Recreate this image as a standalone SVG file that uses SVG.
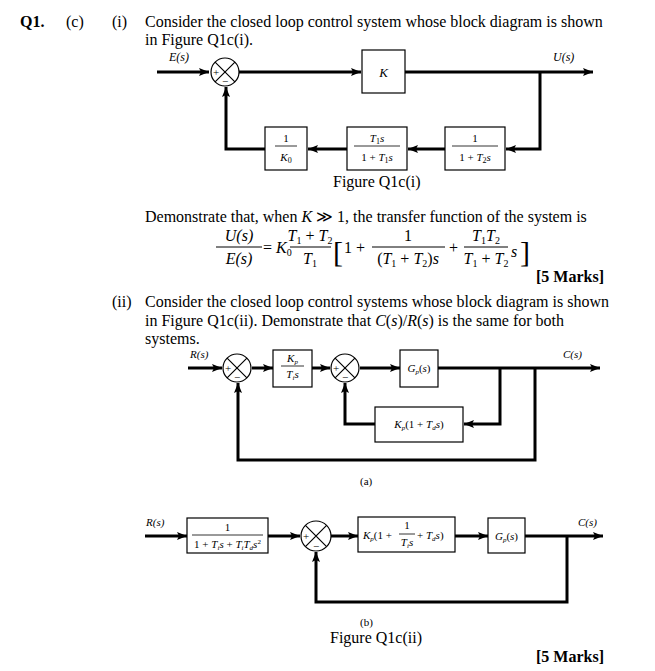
<svg xmlns="http://www.w3.org/2000/svg" width="655" height="671" viewBox="0 0 655 671">
<defs>
<marker id="ar" viewBox="0 0 10 8" refX="10" refY="4" markerWidth="10" markerHeight="8" markerUnits="userSpaceOnUse" orient="auto"><path d="M0,0 L10,4 L0,8 L2,4 z" fill="#000"/></marker>
</defs>
<style>
.t{font-family:"Liberation Serif",serif;font-size:16px;fill:#000}
.b{font-weight:bold}
.s{font-family:"Liberation Serif",serif;font-size:11px;fill:#000}
.i{font-style:italic}
.m{font-family:"Liberation Serif",serif;font-size:16px;font-style:italic;fill:#000}
.box{fill:#fff;stroke:#000;stroke-width:1.2}
.w{fill:none;stroke:#000;stroke-width:3}
.sum{fill:#fff;stroke:#000;stroke-width:1.2}
</style>
<rect width="655" height="671" fill="#fff"/>
<text class="t b" x="20" y="27">Q1.</text>
<text class="t" x="66" y="27">(c)</text>
<text class="t" x="112" y="27">(i)</text>
<text class="t" x="145" y="27">Consider the closed loop control system whose block diagram is shown</text>
<text class="t" x="145" y="45">in Figure Q1c(i).</text>

<g id="connectors">
<path class="w" d="M157,72 H209" marker-end="url(#ar)"/>
<path class="w" d="M239,72 H361" marker-end="url(#ar)"/>
<path class="w" d="M405,72 H593" marker-end="url(#ar)"/>
<path class="w" d="M540,72 V149 H506" marker-end="url(#ar)"/>
<path class="w" d="M445,149 H408" marker-end="url(#ar)"/>
<path class="w" d="M347,149 H308" marker-end="url(#ar)"/>
<path class="w" d="M265,149 H226 V87" marker-end="url(#ar)"/>

<path class="w" d="M188,368 H222" marker-end="url(#ar)"/>
<path class="w" d="M252,368 H273" marker-end="url(#ar)"/>
<path class="w" d="M312,368 H330" marker-end="url(#ar)"/>
<path class="w" d="M360,368 H400" marker-end="url(#ar)"/>
<path class="w" d="M438,368 H600" marker-end="url(#ar)"/>
<path class="w" d="M500,368 V424 H464" marker-end="url(#ar)"/>
<path class="w" d="M375,424 H345 V383" marker-end="url(#ar)"/>
<path class="w" d="M535,368 V460 H238 V383" marker-end="url(#ar)"/>

<path class="w" d="M145,536 H187" marker-end="url(#ar)"/>
<path class="w" d="M268,536 H300" marker-end="url(#ar)"/>
<path class="w" d="M331,536 H358" marker-end="url(#ar)"/>
<path class="w" d="M455,536 H488" marker-end="url(#ar)"/>
<path class="w" d="M525,536 H603" marker-end="url(#ar)"/>
<path class="w" d="M567,536 V602 H316 V552" marker-end="url(#ar)"/>
</g>

<g id="sum1">
<circle class="sum" cx="225" cy="72" r="14"/>
<path d="M215.1,62.1 L234.9,81.9 M234.9,62.1 L215.1,81.9" stroke="#000" stroke-width="1.2"/>
<text class="s" x="213" y="75.5">+</text>
<text class="s" x="222" y="85">−</text>
</g>
<g id="K"><rect class="box" x="362" y="50" width="43" height="43"/><text class="m" x="383.5" y="77" text-anchor="middle" style="font-size:13px">K</text></g>
<g id="G3"><rect class="box" x="445" y="127" width="60" height="43"/><text class="s" x="475" y="142" text-anchor="middle">1</text><line x1="452" y1="146" x2="498" y2="146" stroke="#000" stroke-width="0.8"/><text class="s" x="475" y="161" text-anchor="middle">1 + <tspan class="i">T</tspan><tspan font-size="8" dy="2">2</tspan><tspan class="i" dy="-2">s</tspan></text></g>
<g id="G2"><rect class="box" x="347" y="127" width="60" height="43"/><text class="s" x="377" y="142" text-anchor="middle"><tspan class="i">T</tspan><tspan font-size="8" dy="2">1</tspan><tspan class="i" dy="-2">s</tspan></text><line x1="354" y1="146" x2="400" y2="146" stroke="#000" stroke-width="0.8"/><text class="s" x="377" y="161" text-anchor="middle">1 + <tspan class="i">T</tspan><tspan font-size="8" dy="2">1</tspan><tspan class="i" dy="-2">s</tspan></text></g>
<g id="G1"><rect class="box" x="265" y="127" width="42" height="43"/><text class="s" x="286" y="142" text-anchor="middle">1</text><line x1="275" y1="146" x2="297" y2="146" stroke="#000" stroke-width="0.8"/><text class="s" x="286" y="161" text-anchor="middle"><tspan class="i">K</tspan><tspan font-size="8" dy="2">0</tspan></text></g>
<text class="s i" x="169" y="61" style="font-size:12px">E(s)</text>
<text class="s i" x="553" y="61" style="font-size:12px">U(s)</text>
<text class="t" x="333" y="187">Figure Q1c(i)</text>

<text class="t" x="145" y="222">Demonstrate that, when <tspan class="i">K</tspan> ≫ 1, the transfer function of the system is</text>
<g id="eq">
<text class="m" x="239" y="241" text-anchor="middle">U(s)</text>
<line x1="216" y1="247" x2="262" y2="247" stroke="#000" stroke-width="1"/>
<text class="m" x="239" y="264" text-anchor="middle">E(s)</text>
<text class="m" x="263" y="253"><tspan font-style="normal">= </tspan>K<tspan font-size="10" font-style="normal" dy="3">0</tspan></text>
<text class="m" x="310" y="241" text-anchor="middle">T<tspan font-size="10" font-style="normal" dy="3">1</tspan><tspan font-style="normal" dy="-3"> + </tspan>T<tspan font-size="10" font-style="normal" dy="3">2</tspan></text>
<line x1="290" y1="247" x2="331" y2="247" stroke="#000" stroke-width="1"/>
<text class="m" x="310" y="264" text-anchor="middle">T<tspan font-size="10" font-style="normal" dy="3">1</tspan></text>
<text class="t" x="333" y="262" style="font-size:30px;font-weight:100">[</text>
<text class="t" x="344" y="253">1 +</text>
<text class="t" x="408" y="241" text-anchor="middle">1</text>
<line x1="372" y1="247" x2="445" y2="247" stroke="#000" stroke-width="1"/>
<text class="m" x="408" y="264" text-anchor="middle"><tspan font-style="normal">(</tspan>T<tspan font-size="10" font-style="normal" dy="3">1</tspan><tspan font-style="normal" dy="-3"> + </tspan>T<tspan font-size="10" font-style="normal" dy="3">2</tspan><tspan font-style="normal" dy="-3">)</tspan>s</text>
<text class="t" x="449" y="253">+</text>
<text class="m" x="486" y="241" text-anchor="middle">T<tspan font-size="10" font-style="normal" dy="3">1</tspan><tspan dy="-3">T</tspan><tspan font-size="10" font-style="normal" dy="3">2</tspan></text>
<line x1="464" y1="247" x2="508" y2="247" stroke="#000" stroke-width="1"/>
<text class="m" x="486" y="264" text-anchor="middle">T<tspan font-size="10" font-style="normal" dy="3">1</tspan><tspan font-style="normal" dy="-3"> + </tspan>T<tspan font-size="10" font-style="normal" dy="3">2</tspan></text>
<text class="m" x="511" y="257">s</text>
<text class="t" x="520" y="262" style="font-size:30px">]</text>
</g>
<text class="t b" x="604" y="282" text-anchor="end">[5 Marks]</text>

<text class="t" x="112" y="307">(ii)</text>
<text class="t" x="145" y="307">Consider the closed loop control systems whose block diagram is shown</text>
<text class="t" x="145" y="326">in Figure Q1c(ii). Demonstrate that <tspan class="i">C</tspan>(<tspan class="i">s</tspan>)/<tspan class="i">R</tspan>(<tspan class="i">s</tspan>) is the same for both</text>
<text class="t" x="145" y="344">systems.</text>

<g id="sumA1">
<circle class="sum" cx="237" cy="368" r="14"/>
<path d="M227.1,358.1 L246.9,377.9 M246.9,358.1 L227.1,377.9" stroke="#000" stroke-width="1.2"/>
<text class="s" x="225" y="371.5">+</text><text class="s" x="234" y="381">−</text>
</g>
<g id="KpTi"><rect class="box" x="273" y="350" width="39" height="37"/><text class="s i" x="292.5" y="362" text-anchor="middle">K<tspan font-size="7" dy="2">p</tspan></text><line x1="281" y1="366" x2="304" y2="366" stroke="#000" stroke-width="0.8"/><text class="s i" x="292.5" y="378" text-anchor="middle">T<tspan font-size="7" dy="2">i</tspan><tspan dy="-2">s</tspan></text></g>
<g id="sumA2">
<circle class="sum" cx="345" cy="368" r="14"/>
<path d="M335.1,358.1 L354.9,377.9 M354.9,358.1 L335.1,377.9" stroke="#000" stroke-width="1.2"/>
<text class="s" x="333" y="371.5">+</text><text class="s" x="342" y="381">−</text>
</g>
<g id="GpA"><rect class="box" x="400" y="350" width="38" height="37"/><text class="s i" x="419" y="372" text-anchor="middle">G<tspan font-size="7" dy="2">p</tspan><tspan font-style="normal" dy="-2">(</tspan>s<tspan font-style="normal">)</tspan></text></g>
<g id="KdA"><rect class="box" x="375" y="407" width="88" height="35"/><text class="s" x="419" y="428" text-anchor="middle"><tspan class="i">K</tspan><tspan font-size="7" dy="2" class="i">p</tspan><tspan dy="-2">(1 + </tspan><tspan class="i">T</tspan><tspan font-size="7" dy="2" class="i">d</tspan><tspan dy="-2" class="i">s</tspan>)</text></g>
<text class="s i" x="190" y="358">R(s)</text>
<text class="s i" x="563" y="358">C(s)</text>
<text class="s" x="360" y="485">(a)</text>

<g id="preB"><rect class="box" x="187" y="518" width="81" height="35"/><text class="s" x="227.5" y="531" text-anchor="middle">1</text><line x1="192" y1="535" x2="263" y2="535" stroke="#000" stroke-width="0.8"/><text class="s" x="227.5" y="548" text-anchor="middle">1 + <tspan class="i">T</tspan><tspan font-size="7" dy="2" class="i">i</tspan><tspan dy="-2" class="i">s</tspan> + <tspan class="i">T</tspan><tspan font-size="7" dy="2" class="i">i</tspan><tspan dy="-2" class="i">T</tspan><tspan font-size="7" dy="2" class="i">d</tspan><tspan dy="-2" class="i">s</tspan><tspan font-size="7" dy="-4">2</tspan></text></g>
<g id="sumB">
<circle class="sum" cx="316" cy="536" r="15"/>
<path d="M305.4,525.4 L326.6,546.6 M326.6,525.4 L305.4,546.6" stroke="#000" stroke-width="1.2"/>
<text class="s" x="303" y="539.5">+</text><text class="s" x="313" y="550">−</text>
</g>
<g id="PID"><rect class="box" x="358" y="517" width="97" height="35"/><text class="s" x="363" y="539"><tspan class="i">K</tspan><tspan font-size="7" dy="2" class="i">p</tspan><tspan dy="-2">(1 + </tspan></text><text class="s" x="407" y="529" text-anchor="middle">1</text><line x1="399" y1="534" x2="415" y2="534" stroke="#000" stroke-width="0.8"/><text class="s i" x="407" y="546" text-anchor="middle">T<tspan font-size="7" dy="2">i</tspan><tspan dy="-2">s</tspan></text><text class="s" x="417" y="539">+ <tspan class="i">T</tspan><tspan font-size="7" dy="2" class="i">d</tspan><tspan dy="-2" class="i">s</tspan>)</text></g>
<g id="GpB"><rect class="box" x="488" y="518" width="37" height="35"/><text class="s i" x="506.5" y="540" text-anchor="middle">G<tspan font-size="7" dy="2">p</tspan><tspan font-style="normal" dy="-2">(</tspan>s<tspan font-style="normal">)</tspan></text></g>
<text class="s i" x="146" y="526">R(s)</text>
<text class="s i" x="578" y="526">C(s)</text>
<text class="s" x="360" y="626">(b)</text>
<text class="t" x="330" y="643">Figure Q1c(ii)</text>
<text class="t b" x="604" y="662" text-anchor="end">[5 Marks]</text>
</svg>
